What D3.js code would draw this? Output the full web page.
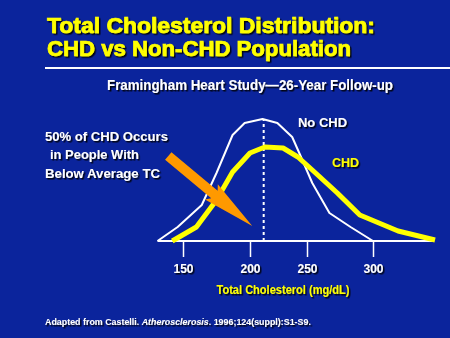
<!DOCTYPE html>
<html>
<head>
<meta charset="utf-8">
<script src="https://cdn.jsdelivr.net/npm/d3@7"></script>
<style>
  html, body { margin: 0; padding: 0; background: #0b249c; }
  svg { display: block; }
</style>
</head>
<body>
<div id="chart"></div>
<script>
// ── Data ────────────────────────────────────────
// x: total cholesterol, mg/dL   y: relative frequency (arbitrary units)
const NO_CHD_TC   = [131, 146, 164, 175, 187, 196, 211, 224, 237, 244, 254, 267, 283, 300];
const NO_CHD_FREQ = [0, 2.8, 7.2, 13.6, 21.2, 23.6, 24.4, 23.6, 20.8, 17.2, 11.6, 5.6, 2.8, 0];

const CHD_TC      = [142, 160, 175, 187, 200, 213, 229, 242, 254, 273, 290, 319, 347];
const CHD_FREQ    = [0, 2.8, 8.2, 13.8, 17.6, 18.8, 18.6, 16.8, 14.2, 9.6, 5.2, 2.0, 0.2];

const TICK_VALUES = [150, 200, 250, 300];
const MEAN_TC     = 212;   // dotted line: population average
const ARROW_FROM  = [139, 17];
const ARROW_TO    = [202, 3];

const W = 450, H = 338;
const FONT = "'Liberation Sans', Arial, sans-serif";

const svg = d3.select("#chart").append("svg")
  .attr("width", W).attr("height", H);

// drop shadow used by the slide texts
const defs = svg.append("defs");
defs.append("filter").attr("id", "shadow")
  .attr("x", "-5%").attr("y", "-20%").attr("width", "115%").attr("height", "150%")
  .append("feDropShadow")
  .attr("dx", 1.5).attr("dy", 1.5).attr("stdDeviation", 0.4)
  .attr("flood-color", "#000").attr("flood-opacity", 0.9);

svg.append("rect").attr("width", W).attr("height", H).attr("fill", "#0b249c");

// ── Title ───────────────────────────────────────
const title = svg.append("g").attr("filter", "url(#shadow)")
  .attr("font-family", FONT).attr("font-weight", "bold")
  .attr("font-size", "22px").attr("fill", "#ffff00")
  .attr("stroke", "#ffff00").attr("stroke-width", 0.7);
title.append("text").attr("x", 47).attr("y", 33)
  .attr("textLength", 328).attr("lengthAdjust", "spacingAndGlyphs")
  .text("Total Cholesterol Distribution:");
title.append("text").attr("x", 47).attr("y", 56)
  .attr("textLength", 304).attr("lengthAdjust", "spacingAndGlyphs")
  .text("CHD vs Non-CHD Population");

svg.append("line")
  .attr("x1", 45).attr("x2", W).attr("y1", 68).attr("y2", 68)
  .attr("stroke", "#fff").attr("stroke-width", 2);

svg.append("text").attr("filter", "url(#shadow)")
  .attr("x", 107).attr("y", 90)
  .attr("font-family", FONT).attr("font-weight", "bold")
  .attr("font-size", "14px").attr("fill", "#fff")
  .attr("textLength", 286).attr("lengthAdjust", "spacingAndGlyphs")
  .text("Framingham Heart Study\u201426-Year Follow-up");

// ── Scales ──────────────────────────────────────
// the slide's axis is not evenly spaced, so map each tick separately
const x = d3.scaleLinear()
  .domain(TICK_VALUES)
  .range([183, 250, 307, 373]);
const y = d3.scaleLinear().domain([0, 25]).range([241, 116]);

const g = svg.append("g");

// ── Axis ────────────────────────────────────────
g.append("line")
  .attr("x1", x(131)).attr("x2", x(345))
  .attr("y1", y(0)).attr("y2", y(0))
  .attr("stroke", "#fff").attr("stroke-width", 2);

const xAxis = g.append("g")
  .attr("transform", `translate(0,${y(0) + 1})`)
  .call(d3.axisBottom(x).tickValues(TICK_VALUES).tickSize(15).tickPadding(7));
xAxis.select(".domain").remove();
xAxis.selectAll(".tick line").attr("stroke", "#fff").attr("stroke-width", 1.5);
xAxis.selectAll("text")
  .attr("filter", "url(#shadow)")
  .attr("font-family", FONT).attr("font-weight", "bold")
  .attr("font-size", "12px").attr("fill", "#fff");

svg.append("text").attr("filter", "url(#shadow)")
  .attr("x", 283).attr("y", 294).attr("text-anchor", "middle")
  .attr("font-family", FONT).attr("font-weight", "bold")
  .attr("font-size", "12px").attr("fill", "#ffff00")
  .attr("textLength", 133).attr("lengthAdjust", "spacingAndGlyphs")
  .text("Total Cholesterol (mg/dL)");

// ── Curves ──────────────────────────────────────
const line = d3.line().x(d => x(d[0])).y(d => y(d[1]));

g.append("path")
  .datum(d3.zip(NO_CHD_TC, NO_CHD_FREQ))
  .attr("fill", "none").attr("stroke", "#fff").attr("stroke-width", 2)
  .attr("stroke-linejoin", "round")
  .attr("d", line);

g.append("line")
  .attr("x1", x(MEAN_TC)).attr("x2", x(MEAN_TC))
  .attr("y1", y(0)).attr("y2", y(24.3))
  .attr("stroke", "#fff").attr("stroke-width", 2)
  .attr("stroke-dasharray", "3,3");

g.append("path")
  .datum(d3.zip(CHD_TC, CHD_FREQ))
  .attr("fill", "none").attr("stroke", "#ffff00").attr("stroke-width", 5)
  .attr("stroke-linejoin", "round")
  .attr("d", line);

// ── Orange arrow ────────────────────────────────
(function () {
  const x0 = x(ARROW_FROM[0]), y0 = y(ARROW_FROM[1]);
  const x1 = x(ARROW_TO[0]),   y1 = y(ARROW_TO[1]);
  const len = Math.hypot(x1 - x0, y1 - y0);
  const ux = (x1 - x0) / len, uy = (y1 - y0) / len;
  const nx = -uy, ny = ux;
  const shaftW = 5, headW = 10, headAt = len * 0.55;
  const p = (t, s) => [x0 + ux * t + nx * s, y0 + uy * t + ny * s];
  const pts = [p(0, -shaftW), p(headAt, -shaftW), p(headAt - 4, -headW),
               p(len, 0), p(headAt - 4, headW), p(headAt, shaftW), p(0, shaftW)];
  g.append("polygon")
    .attr("points", pts.map(d => d.join(",")).join(" "))
    .attr("fill", "#ff9900");
})();

// ── Labels ──────────────────────────────────────
const note = svg.append("g").attr("filter", "url(#shadow)")
  .attr("font-family", FONT).attr("font-weight", "bold")
  .attr("font-size", "13px").attr("fill", "#fff");
note.append("text").attr("x", 45).attr("y", 141)
  .attr("textLength", 123).attr("lengthAdjust", "spacingAndGlyphs")
  .text("50% of CHD Occurs");
note.append("text").attr("x", 50).attr("y", 159)
  .attr("textLength", 89).attr("lengthAdjust", "spacingAndGlyphs")
  .text("in People With");
note.append("text").attr("x", 45).attr("y", 178)
  .attr("textLength", 115).attr("lengthAdjust", "spacingAndGlyphs")
  .text("Below Average TC");

note.append("text").attr("x", 298).attr("y", 127)
  .attr("textLength", 49).attr("lengthAdjust", "spacingAndGlyphs")
  .text("No CHD");
note.append("text").attr("x", 332).attr("y", 167).attr("fill", "#ffff00")
  .attr("textLength", 27).attr("lengthAdjust", "spacingAndGlyphs")
  .text("CHD");

// ── Source ──────────────────────────────────────
const src = svg.append("text").attr("filter", "url(#shadow)")
  .attr("x", 45).attr("y", 325)
  .attr("font-family", FONT).attr("font-weight", "bold")
  .attr("font-size", "8.9px").attr("fill", "#fff");
src.append("tspan").text("Adapted from Castelli. ");
src.append("tspan").attr("font-style", "italic").text("Atherosclerosis");
src.append("tspan").text(". 1996;124(suppl):S1-S9.");
</script>
</body>
</html>
